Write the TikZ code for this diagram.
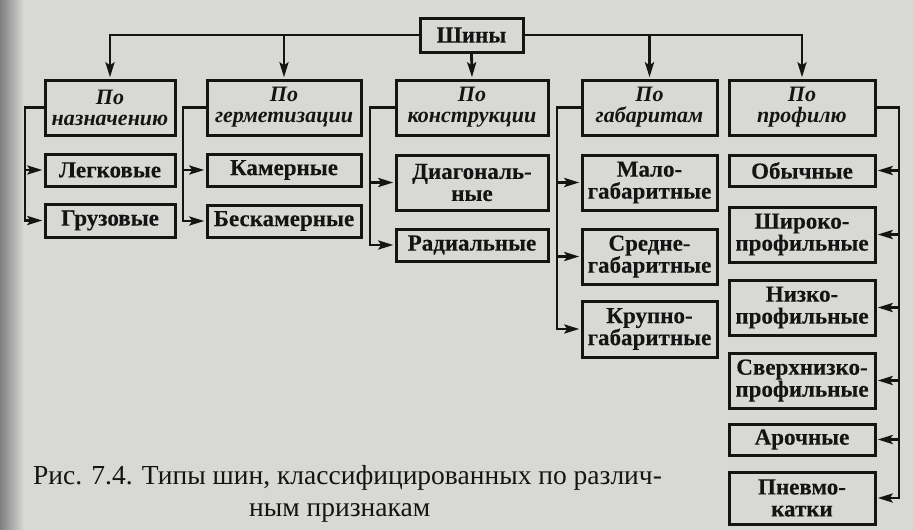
\documentclass[tikz,border=0pt]{standalone}
\usepackage{fontspec}
\setmainfont{Liberation Serif}[BoldFeatures={FakeBold=0.15}]
\usetikzlibrary{arrows.meta}
\definecolor{paper}{HTML}{D8D8D4}
\definecolor{ink}{HTML}{141414}
\begin{document}
\begin{tikzpicture}[x=1pt,y=-1pt,
  box/.style={draw=ink, text=ink, line width=3pt, fill=paper, inner sep=0pt, align=center,
    font=\bfseries\fontsize{23}{22}\selectfont},
  hdr/.style={box, font=\bfseries\itshape\fontsize{22}{21}\selectfont},
  conn/.style={draw=ink, line width=2.8pt},
  arr/.style={conn, -{Stealth[length=15pt,width=9pt,inset=3pt]}, shorten >=1.2pt},
  captext/.style={text=ink, inner sep=0pt, anchor=base west, font=\fontsize{27.5}{30}\selectfont}
]
\fill[paper] (0,0) rectangle (913,530);
\shade[left color=black!50, right color=paper] (0,0) rectangle (24,530);
\useasboundingbox (0,0) rectangle (913,530);

% root
\node[box, minimum width=103pt, minimum height=34pt] (sh) at (471.5,35) {Шины};

% headers
\node[hdr, minimum width=130pt, minimum height=55pt] (h1) at (110,107.5) {По\\назначению};
\node[hdr, minimum width=154pt, minimum height=55pt] (h2) at (284,107.5) {По\\герметизации};
\node[hdr, minimum width=152pt, minimum height=55pt] (h3) at (472,107.5) {По\\конструкции};
\node[hdr, minimum width=135pt, minimum height=55pt] (h4) at (649.5,107.5) {По\\габаритам};
\node[hdr, minimum width=146pt, minimum height=55pt] (h5) at (802,107.5) {По\\профилю};

% group a
\node[box, minimum width=130pt, minimum height=32pt] (a1) at (110,170) {Легковые};
\node[box, minimum width=130pt, minimum height=33pt] (a2) at (110,220.5) {Грузовые};
% group b
\node[box, minimum width=154pt, minimum height=32pt] (b1) at (284,170) {Камерные};
\node[box, minimum width=154pt, minimum height=32pt] (b2) at (284,221) {Бескамерные};
% group c
\node[box, minimum width=152pt, minimum height=55pt] (c1) at (472,182.5) {Диагональ-\\ные};
\node[box, minimum width=152pt, minimum height=32pt] (c2) at (472,245) {Радиальные};
% group d
\node[box, minimum width=135pt, minimum height=55pt] (d1) at (649.5,182.5) {Мало-\\габаритные};
\node[box, minimum width=135pt, minimum height=55pt] (d2) at (649.5,256.5) {Средне-\\габаритные};
\node[box, minimum width=135pt, minimum height=56pt] (d3) at (649.5,329) {Крупно-\\габаритные};
% group e
\node[box, minimum width=146pt, minimum height=31pt] (e1) at (802,170.5) {Обычные};
\node[box, minimum width=146pt, minimum height=55pt] (e2) at (802,234.5) {Широко-\\профильные};
\node[box, minimum width=146pt, minimum height=55pt] (e3) at (802,307.5) {Низко-\\профильные};
\node[box, minimum width=146pt, minimum height=55pt] (e4) at (802,380.5) {Сверхнизко-\\профильные};
\node[box, minimum width=146pt, minimum height=31pt] (e5) at (802,439.5) {Арочные};
\node[box, minimum width=146pt, minimum height=52pt] (e6) at (802,498) {Пневмо-\\катки};

% root connectors
\draw[arr] (sh.west) -| (h1.north);
\draw[arr] (sh.west) -| (h2.north);
\draw[arr] (sh.south) -- (h3.north);
\draw[arr] (sh.east) -| (h4.north);
\draw[arr] (sh.east) -| (h5.north);

% buses
\coordinate (ba) at (25,0);
\coordinate (bb) at (183,0);
\coordinate (bc) at (370,0);
\coordinate (bd) at (557,0);
\coordinate (be) at (899,0);

\draw[arr] (h1.west) -- (ba |- h1.west) |- (a2.west);
\draw[arr] (ba |- a1.west) -- (a1.west);

\draw[arr] (h2.west) -- (bb |- h2.west) |- (b2.west);
\draw[arr] (bb |- b1.west) -- (b1.west);

\draw[arr] (h3.west) -- (bc |- h3.west) |- (c2.west);
\draw[arr] (bc |- c1.west) -- (c1.west);

\draw[arr] (h4.west) -- (bd |- h4.west) |- (d3.west);
\draw[arr] (bd |- d1.west) -- (d1.west);
\draw[arr] (bd |- d2.west) -- (d2.west);

\draw[arr] (h5.east) -- (be |- h5.east) |- (e6.east);
\draw[arr] (be |- e1.east) -- (e1.east);
\draw[arr] (be |- e2.east) -- (e2.east);
\draw[arr] (be |- e3.east) -- (e3.east);
\draw[arr] (be |- e4.east) -- (e4.east);
\draw[arr] (be |- e5.east) -- (e5.east);

% caption
\node[captext] (cap1) at (33,484) {Рис. 7.4. Типы шин, классифицированных по различ-};
\node[captext] (cap2) at (249,516) {ным признакам};
\end{tikzpicture}
\end{document}
